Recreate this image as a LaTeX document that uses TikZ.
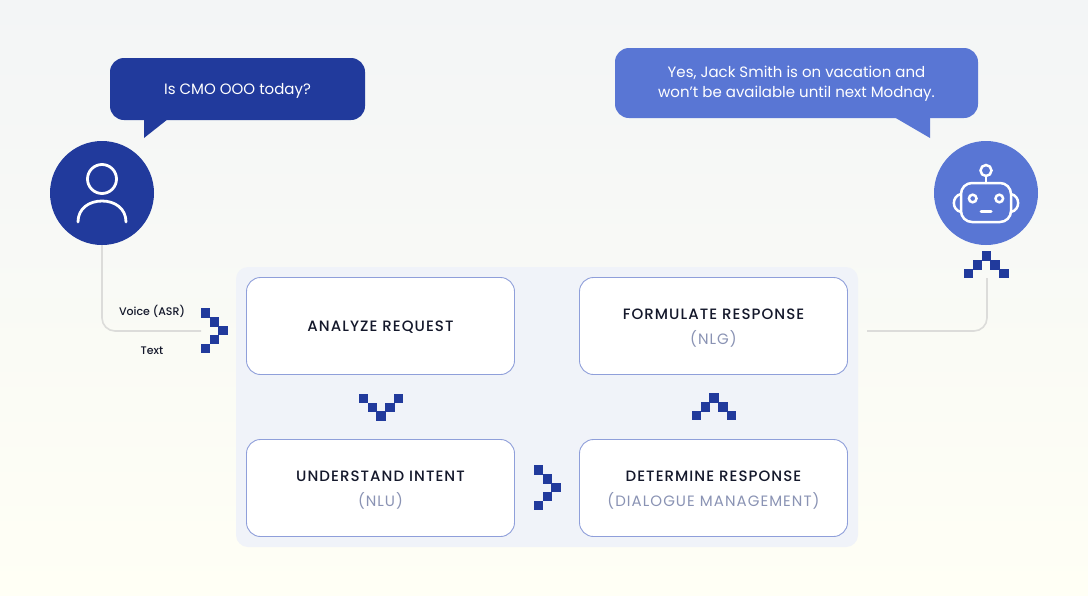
\documentclass[tikz,border=0pt]{standalone}
\usepackage{fontspec}
\setmainfont{Poppins}
\newfontfamily\stagefont[LetterSpace=7]{Poppins Medium}
\newfontfamily\subfont[LetterSpace=7]{Poppins}
\newfontfamily\smallfont{Poppins Medium}
\definecolor{navyblue}{HTML}{213A9C}
\definecolor{softblue}{HTML}{5976D4}
\definecolor{panelblue}{HTML}{F0F3F9}
\definecolor{boxline}{HTML}{8F9FDA}
\definecolor{greytext}{HTML}{8A93B4}
\definecolor{darktext}{HTML}{14182B}
\definecolor{wireline}{HTML}{DCDCDA}
\definecolor{skytop}{HTML}{F3F5F6}
\definecolor{skybottom}{HTML}{FFFFF5}
\tikzset{
  stagebox/.style={draw=boxline,fill=white,line width=0.9pt,rounded corners=14pt,
    minimum width=268pt,minimum height=97pt,align=center,text=darktext,
    font=\fontsize{15}{25}\stagefont},
  bubble/.style={rounded corners=14pt,text=white,align=center,
    font=\fontsize{15}{20}\selectfont},
  avatar/.style={circle,minimum size=104pt,inner sep=0pt},
  wire/.style={draw=wireline,line width=1.6pt,rounded corners=13pt},
  smalltext/.style={text=darktext,font=\fontsize{11}{12}\smallfont},
  icon/.style={draw=white,line width=2.8pt,line cap=round},
  roboticon/.style={icon,line width=2.5pt},
  pics/pixelchevron/.style={code={
    \foreach \dx/\dy in {0/0,-8.8/-8.8,-8.8/8.8,-17.6/-17.6,-17.6/17.6}{
      \fill[navyblue] (\dx-4.7,\dy-4.7) rectangle (\dx+4.7,\dy+4.7);
    }
  }}
}
\newcommand{\dropline}[2][5.5pt]{\raisebox{-#1}[0pt][0pt]{#2}}
\newcommand{\subtext}[1]{\dropline{\subfont\textcolor{greytext}{#1}}}
\begin{document}
\begin{tikzpicture}[x=1pt,y=-1pt]
    \useasboundingbox (0,0) rectangle (1088,595);
    \shade[top color=skytop,bottom color=skybottom] (0,0) rectangle (1088,595);

    \fill[panelblue,rounded corners=12pt] (236,267) rectangle (858,547);

    \node[stagebox] (analyze) at (380.5,326) {\dropline{ANALYZE REQUEST}};
    \node[stagebox] (formulate) at (713.5,326) {\dropline{FORMULATE RESPONSE}\\\subtext{(NLG)}};
    \node[stagebox] (understand) at (380.5,488) {\dropline{UNDERSTAND INTENT}\\\subtext{(NLU)}};
    \node[stagebox] (determine) at (713.5,488) {\dropline{DETERMINE RESPONSE}\\\subtext{(DIALOGUE MANAGEMENT)}};

    \node[avatar,fill=navyblue] (user) at (102,193) {};
    \node[avatar,fill=softblue] (bot) at (986,193) {};

    % speech bubbles
    \node[bubble,fill=navyblue,minimum width=255pt,minimum height=62pt] (question) at (237.5,89) {\dropline{Is CMO OOO today?}};
    \node[bubble,fill=softblue,minimum width=363pt,minimum height=70pt] (answer) at (796.5,83) {\dropline[4.5pt]{Yes, Jack Smith is on vacation and}\\\dropline[4.5pt]{won't be available until next Modnay.}};
    \fill[navyblue] (144,119) -- (144,138) -- (168,119) -- cycle;
    \fill[softblue] (894,117) -- (930,138) -- (930,117) -- cycle;

    % person icon
    \draw[icon] (102,179) circle[radius=14.5];
    \draw[icon] (78,222) .. controls (78,208.5) and (89,201) .. (102,201) .. controls (115,201) and (126,208.5) .. (126,222);

    % robot icon
    \draw[roboticon,rounded corners=11pt] (961,183) rectangle (1011,222);
    \draw[roboticon] (986,170.5) circle[radius=5.5];
    \draw[roboticon] (986,176) -- (986,183);
    \draw[roboticon] (972.7,198.5) circle[radius=3.8];
    \draw[roboticon] (999.3,198.5) circle[radius=3.8];
    \draw[icon,line width=3pt] (981,211) -- (991,211);
    \draw[roboticon] (961,194) .. controls (951.5,196) and (951.5,210) .. (961,212);
    \draw[roboticon] (1011,194) .. controls (1020.5,196) and (1020.5,210) .. (1011,212);

    % connectors
    \coordinate (voicein) at (201,331);
    \coordinate (replyout) at (867,331);
    \coordinate (botin) at (987,278);
    \draw[wire] (user.south) |- (voicein);
    \draw[wire] (replyout) -| (botin);

    \node[smalltext] (voice) at (152,311.5) {Voice (ASR)};
    \node[smalltext] (plain) at (152,350.5) {Text};

    \pic at (223,330.7) {pixelchevron};
    \pic at (556,487.7) {pixelchevron};
    \pic[rotate=-90] at (381,416) {pixelchevron};
    \pic[rotate=90] at (714,398) {pixelchevron};
    \pic[rotate=90] at (986.3,256) {pixelchevron};
\end{tikzpicture}
\end{document}
